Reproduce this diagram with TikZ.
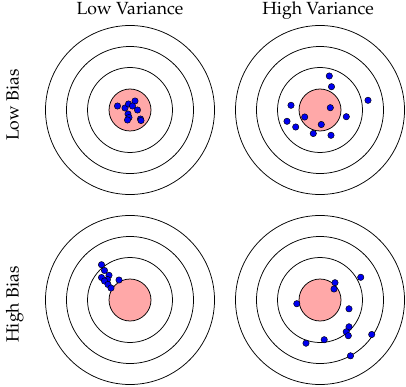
\documentclass[tikz,border=0pt]{standalone}
\usepackage[T1]{fontenc}
\usepackage{mathpazo}
\definecolor{bullpink}{HTML}{FFA8A8}
\definecolor{dotblue}{HTML}{0000F0}
\tikzset{
  ring/.style={draw=black, line width=0.75pt},
  bull/.style={draw=black, line width=0.75pt, fill=bullpink},
  hit/.style={circle, draw=black, line width=0.45pt, fill=dotblue, inner sep=0pt, minimum size=6.4pt},
  collabel/.style={anchor=base, font=\fontsize{17.6}{20}\selectfont, inner sep=0pt},
  rowlabel/.style={anchor=base, rotate=90, font=\fontsize{17.6}{20}\selectfont, inner sep=0pt}
}
\newcommand{\mytarget}[2]{%
  \draw[ring] (#1,#2) circle (84.5);
  \draw[ring] (#1,#2) circle (63.5);
  \draw[ring] (#1,#2) circle (42.5);
  \draw[bull] (#1,#2) circle (21);
}
\begin{document}
\begin{tikzpicture}[x=1pt,y=-1pt]
\useasboundingbox (0,0) rectangle (406,387);
\mytarget{130}{110}
\mytarget{320}{110}
\mytarget{130}{300}
\mytarget{320}{300}
\node[collabel] (lv) at (130,15) {Low Variance};
\node[collabel] (hv) at (318,15) {High Variance};
\node[rowlabel] (lb) at (18.5,105) {Low Bias};
\node[rowlabel] (hb) at (18.5,304.5) {High Bias};
% top-left: low bias, low variance
\foreach \p [count=\i] in {(117.5,106),(125,108),(128.5,104),(135,101),(132.5,106),(137.5,110),(128,114),(129,117.5),(127.5,120),(140.5,119),(141,120.5)}
  \node[hit] (a\i) at \p {};
% top-right: low bias, high variance
\foreach \p [count=\i] in {(329.3,76),(331.5,86.7),(368,100.3),(291,105.3),(330.3,107.7),(304.7,117),(346.3,116.7),(287,121.3),(321.3,124.5),(295.7,127),(313.3,133.5),(331,135.3)}
  \node[hit] (b\i) at \p {};
% bottom-left: high bias, low variance
\foreach \p [count=\i] in {(101.5,264.7),(104.5,270.5),(109,275.3),(101.5,277.5),(107.5,279.5),(104.5,281),(108,284.5),(111,288),(119,280)}
  \node[hit] (c\i) at \p {};
% bottom-right: high bias, high variance
\foreach \p [count=\i] in {(335,282.7),(334,289),(360.7,277.3),(296.8,303.7),(349,308.8),(349,326.8),(346.2,331.8),(348.3,335.7),(371.7,334.5),(324.2,339.7),(306,343.2),(350.5,355.8)}
  \node[hit] (d\i) at \p {};
\end{tikzpicture}
\end{document}
